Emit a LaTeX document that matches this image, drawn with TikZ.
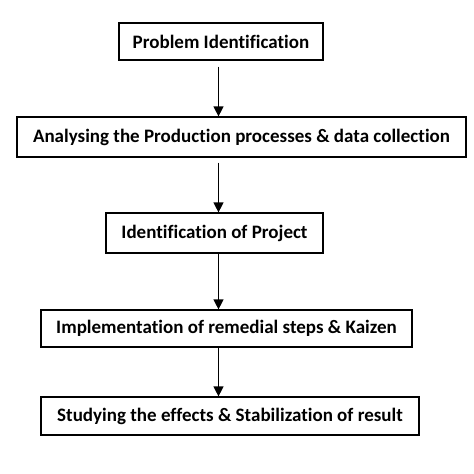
\documentclass[tikz,border=0pt]{standalone}
\usepackage{fontspec}
\setmainfont{Carlito}[Ligatures=NoCommon]
\usetikzlibrary{arrows.meta}

\begin{document}
\begin{tikzpicture}[x=1pt,y=-1pt,
  stagebox/.style={draw, line width=1.2pt, inner sep=0pt, font=\fontsize{19}{21}\selectfont\bfseries},
  flowarrow/.style={line width=1.2pt, -{Triangle[width=10pt,length=10pt]}}]
\useasboundingbox (0,0) rectangle (474,474);
\coordinate (axis) at (218.5,0);

\node[stagebox, minimum width=204pt, minimum height=37pt] (problem) at (221,41.5) {Problem Identification};
\node[stagebox, minimum width=449pt, minimum height=40pt] (analysis) at (241.5,137) {Analysing the Production processes \& data collection};
\node[stagebox, minimum width=217pt, minimum height=40pt] (project) at (214.5,233) {Identification of Project};
\node[stagebox, minimum width=371pt, minimum height=37pt] (kaizen) at (226.5,328.5) {Implementation of remedial steps \& Kaizen};
\node[stagebox, minimum width=378pt, minimum height=38pt] (result) at (230,416) {Studying the effects \& Stabilization of result};

\draw[flowarrow] ([yshift=-6pt]problem.south -| axis) -- (analysis.north -| axis);
\draw[flowarrow] ([yshift=-5pt]analysis.south -| axis) -- (project.north -| axis);
\draw[flowarrow] (project.south -| axis) -- (kaizen.north -| axis);
\draw[flowarrow] (kaizen.south -| axis) -- (result.north -| axis);
\end{tikzpicture}
\end{document}
